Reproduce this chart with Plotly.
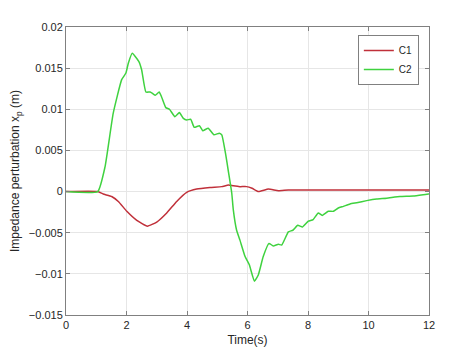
import plotly.graph_objects as go

# C1 (red)
t_c1 = [0, 1.05, 1.23, 1.51, 1.73, 2.01, 2.34, 2.69, 3.00, 3.33, 3.66, 3.99, 4.32, 4.76,
        5.15, 5.37, 5.53, 5.75, 5.97, 6.15, 6.36, 6.69, 7.02, 7.35, 8.0, 9.0, 10.0, 11.0, 12.0]
y_c1 = [0, 0, -0.0003, -0.0006, -0.0012, -0.0024, -0.0035, -0.0042, -0.0037, -0.0026, -0.0012,
        -0.0001, 0.0003, 0.0005, 0.0006, 0.0008, 0.0007, 0.0006, 0.0006, 0.0004, 0.0, 0.0003,
        0.0001, 0.0002, 0.0002, 0.0002, 0.0002, 0.0002, 0.0002]

# C2 (green)
t_c2 = [0, 1.05, 1.29, 1.56, 1.84, 1.98, 2.06, 2.19, 2.41, 2.50, 2.64, 2.78, 2.87, 2.95, 3.08,
        3.16, 3.30, 3.42, 3.60, 3.75, 3.88, 3.99, 4.12, 4.24, 4.41, 4.52, 4.70, 4.89, 5.07, 5.15,
        5.28, 5.37, 5.48, 5.53, 5.64, 5.75, 5.92, 6.06, 6.23, 6.36, 6.52, 6.71, 6.85, 7.02, 7.13,
        7.35, 7.50, 7.66, 7.82, 8.01, 8.17, 8.34, 8.47, 8.67, 8.84, 9.00, 9.17, 9.39, 9.61, 9.94,
        10.27, 10.60, 11.04, 11.48, 11.98, 12.0]
y_c2 = [0, 0, 0.0030, 0.0095, 0.0136, 0.0144, 0.0156, 0.0168, 0.0158, 0.0148, 0.0121, 0.0121,
        0.0119, 0.0117, 0.0121, 0.0115, 0.0102, 0.0100, 0.0091, 0.0096, 0.0089, 0.0087, 0.0088,
        0.0078, 0.0080, 0.0074, 0.0077, 0.0069, 0.0071, 0.0069, 0.0045, 0.0024, -0.0002, -0.0022,
        -0.0047, -0.0059, -0.0079, -0.0089, -0.0109, -0.0101, -0.0079, -0.0063, -0.0066, -0.0064,
        -0.0065, -0.0049, -0.0047, -0.0041, -0.0043, -0.0036, -0.0034, -0.0026, -0.0029, -0.0024,
        -0.0024, -0.0020, -0.0018, -0.0015, -0.00135, -0.0011, -0.0009, -0.0008, -0.0006,
        -0.00054, -0.0003, -0.0003]

x_ticks = [0, 2, 4, 6, 8, 10, 12]
y_ticks = [-0.015, -0.01, -0.005, 0, 0.005, 0.01, 0.015, 0.02]
y_tick_labels = ["\u22120.015", "\u22120.01", "\u22120.005", "0", "0.005", "0.01", "0.015", "0.02"]

fig = go.Figure()
fig.add_trace(go.Scatter(x=t_c1, y=y_c1, mode="lines", name="C1",
                         line=dict(color="#C0303A", width=1.5, shape="spline", smoothing=0.4)))
fig.add_trace(go.Scatter(x=t_c2, y=y_c2, mode="lines", name="C2",
                         line=dict(color="#3FD23F", width=1.5, shape="spline", smoothing=0.4)))

axis_common = dict(showline=True, linecolor="#808080", linewidth=1, mirror="ticks",
                   ticks="inside", ticklen=4, tickcolor="#808080", automargin=False,
                   showgrid=True, gridcolor="#E6E6E6", gridwidth=1, zeroline=False,
                   tickfont=dict(family="Liberation Sans, Arial", size=11, color="#262626"))

fig.update_layout(
    width=474, height=355,
    margin=dict(l=58, r=53, t=19, b=48),
    paper_bgcolor="white", plot_bgcolor="white",
    font=dict(family="Liberation Sans, Arial", size=11, color="#262626"),
    xaxis=dict(range=[0, 12], tickvals=x_ticks,
               title=dict(text="Time(s)", standoff=5, font=dict(size=12)), **axis_common),
    yaxis=dict(range=[-0.015, 0.02], tickvals=y_ticks, ticktext=y_tick_labels,
               title=dict(text="Impedance perturbation x<sub>p</sub> (m)", standoff=10,
                          font=dict(size=12)), **axis_common),
    legend=dict(x=0.972, y=0.972, xanchor="right", yanchor="top",
                bgcolor="white", bordercolor="#808080", borderwidth=1,
                font=dict(size=10), itemwidth=30, tracegroupgap=0),
    showlegend=True,
)

fig.write_html("out.html")
